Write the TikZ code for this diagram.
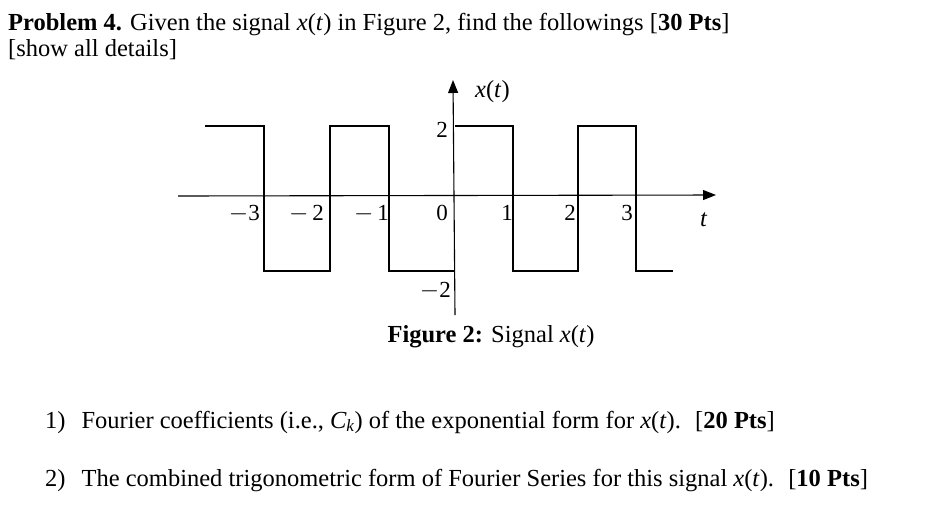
\documentclass[tikz,border=0pt]{standalone}
\usepackage{fontspec}
\setmainfont{Liberation Serif}
\usetikzlibrary{arrows.meta}
\begin{document}
\begin{tikzpicture}[x=1pt,y=-1pt,
  txt/.style={inner sep=0pt,font=\fontsize{24.5}{28}\selectfont},
  lab/.style={inner sep=0pt,font=\fontsize{23}{28}\selectfont,anchor=base east},
  sig/.style={line width=1.2pt},
  ax/.style={line width=1.1pt,-{Triangle[length=13pt,width=10pt]}}]
\useasboundingbox (0,0) rectangle (925,507);
\node[txt,anchor=base west] (l1) at (8,30) {\textbf{Problem 4.} Given the signal \textit{x}(\textit{t}) in Figure 2, find the followings [\textbf{30 Pts}]};
\node[txt,anchor=base west] (l2) at (8,56) {[show all details]};
% axes
\coordinate (xa0) at (178,196);
\coordinate (xa1) at (716,195);
\coordinate (ya0) at (455,315);
\coordinate (ya1) at (453,80);
\draw[ax] (xa0) -- (xa1);
\draw[ax] (ya0) -- (ya1);
\draw[sig] (205,126) -- (264,126) -- (264,271) -- (330,271) -- (330,126) -- (389,126) -- (389,271) -- (454,271)
  (455,126) -- (513,126) -- (513,271) -- (578,271) -- (578,126) -- (636,126) -- (636,271) -- (673,271);
\node[lab] (tm3) at (260,220) {$-$3};
\node[lab] (tm2) at (324,220) {$-$\,2};
\node[lab] (tm1) at (389,220) {$-$\,1};
\node[lab] (t0) at (448,220) {0};
\node[lab] (t1) at (513,220) {1};
\node[lab] (t2) at (576,220) {2};
\node[lab] (t3) at (633,220) {3};
\node[lab] (y2) at (448,137) {2};
\node[lab] (ym2) at (451,297) {$-$2};
\node[txt,anchor=base west] (xt) at (475,97) {\textit{x}(\textit{t})};
\node[txt,anchor=base west] (tt) at (700,226) {\textit{t}};
\node[txt,anchor=base] (cap) at (491,342) {\textbf{Figure 2:} Signal \textit{x}(\textit{t})};
\node[txt,anchor=base west] (q1) at (45,428) {1)\hspace{16pt}Fourier coefficients (i.e., \textit{C\textsubscript{k}}) of the exponential form for \textit{x}(\textit{t}). \ [\textbf{20 Pts}]};
\node[txt,anchor=base west] (q2) at (45,486) {2)\hspace{16pt}The combined trigonometric form of Fourier Series for this signal \textit{x}(\textit{t}). \ [\textbf{10 Pts}]};
\end{tikzpicture}
\end{document}
